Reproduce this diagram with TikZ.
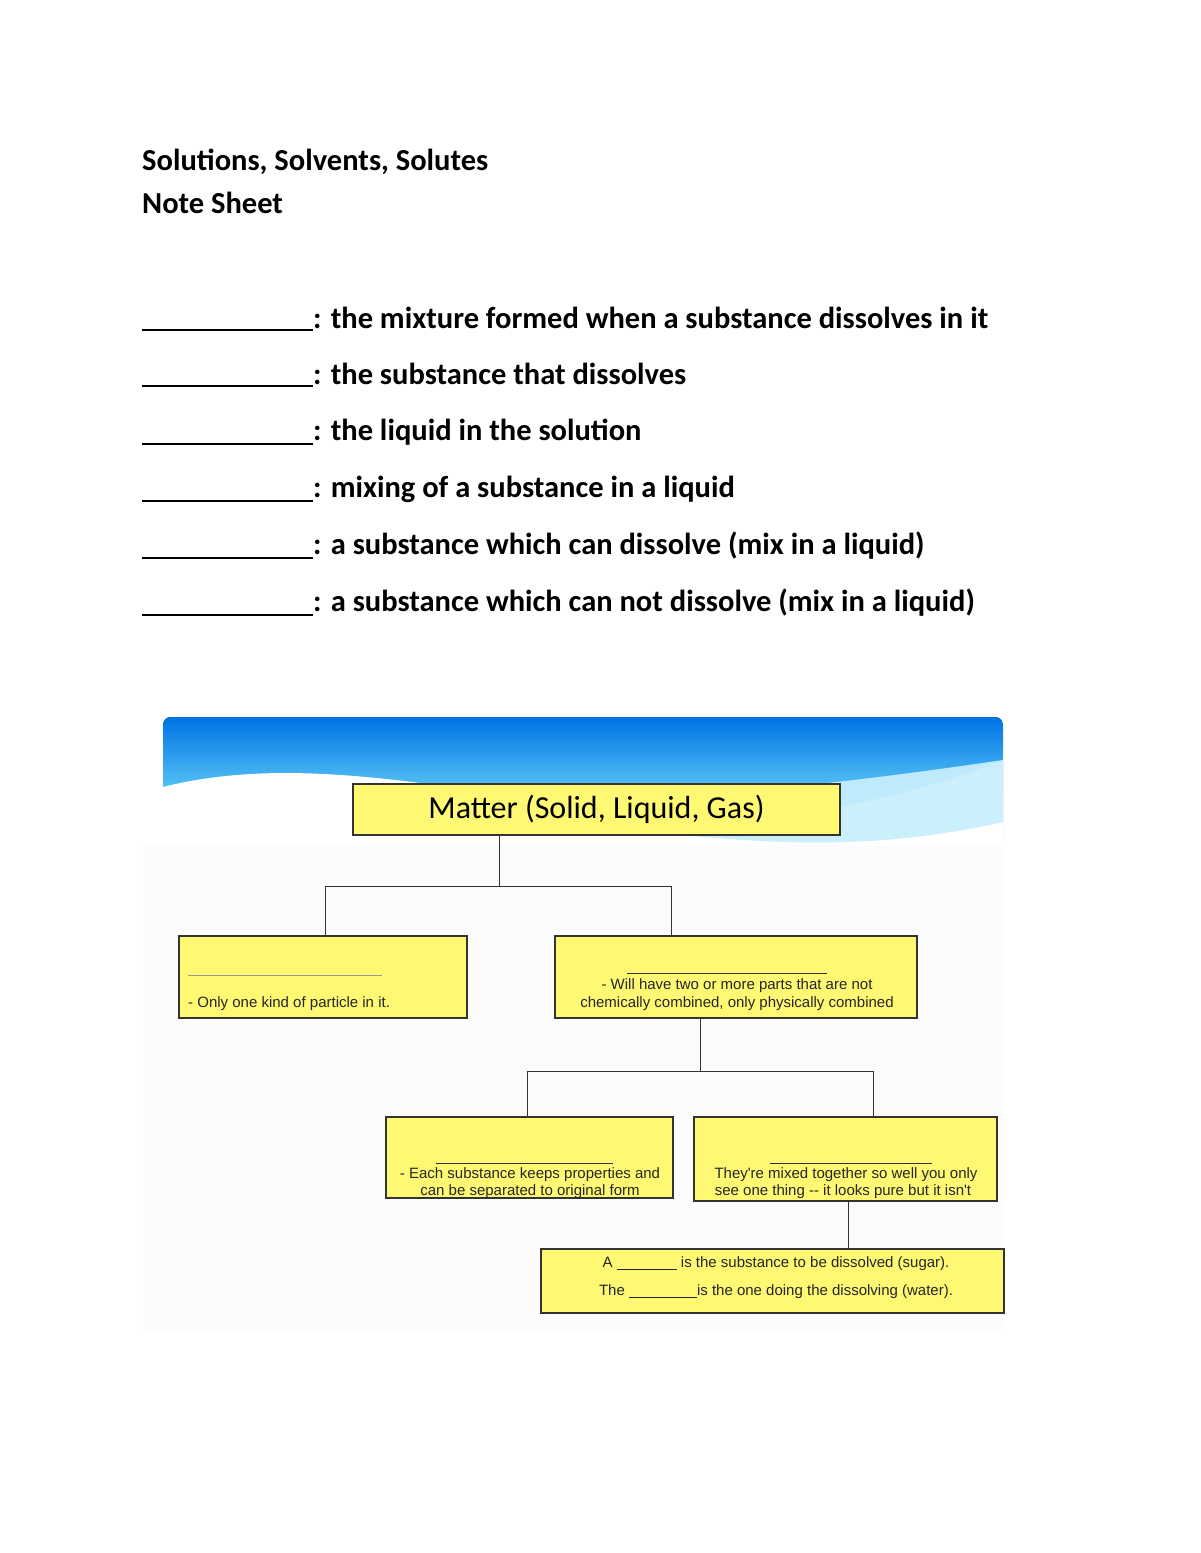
\documentclass[tikz,border=0pt]{standalone}
\usepackage{fontspec}
\setmainfont{Carlito}
\newfontfamily\arial{Liberation Sans}
\begin{document}
\begin{tikzpicture}[x=1pt,y=-1pt,
  ybox/.style={draw=black!80,line width=1.2pt,fill=yellow!55},
  conn/.style={draw=black!80,line width=1pt},
  deftxt/.style={anchor=west,inner sep=0pt,font=\bfseries\fontsize{30.5}{34}\selectfont},
  small/.style={font=\arial\fontsize{15}{17}\selectfont,inner sep=0pt,text=black!85}]
\useasboundingbox (0,0) rectangle (1200,1553);
% titles
\node[deftxt] (t1) at (142,162) {Solutions, Solvents, Solutes};
\node[deftxt] (t2) at (142,203) {Note Sheet};
\foreach \y/\t in {318/the mixture formed when a substance dissolves in it,
  374/the substance that dissolves, 432/the liquid in the solution,
  489/mixing of a substance in a liquid,
  546/a substance which can dissolve (mix in a liquid),
  603/a substance which can not dissolve (mix in a liquid)}{
  \draw[line width=1.3pt] (142,\y+12) -- (313,\y+12);
  \node[deftxt] at (313,\y) {: \t};
}
% header
\fill[black!1] (143,845) rectangle (1003,1330);
\begin{scope}
\clip[rounded corners=8pt] (163,717) rectangle (1003,900);
\fill[top color=blue!50!cyan!90!black, bottom color=cyan!40] (163,717) rectangle (1003,845);
\fill[cyan!25] (420,795) .. controls (600,810) and (800,790) .. (1003,760) -- (1003,820) .. controls (800,850) and (600,840) .. (420,795) -- cycle;
\fill[white] (163,787) .. controls (250,765) and (350,770) .. (500,795) .. controls (700,830) and (850,850) .. (1003,820) -- (1003,900) -- (163,900) -- cycle;
\fill[cyan!20] (1003,760) .. controls (900,800) and (800,820) .. (640,830) .. controls (800,850) and (900,845) .. (1003,822) -- cycle;
\fill[black!1] (163,845) rectangle (1003,900);
\end{scope}
% boxes
\node[ybox,minimum width=487,minimum height=51,inner sep=0pt,font=\fontsize{32}{36}\selectfont] (m) at (596.5,809.5) {Matter (Solid, Liquid, Gas)};
\node[ybox,minimum width=288,minimum height=82,inner sep=0pt] (b1) at (323,977) {};
\node[ybox,minimum width=362,minimum height=82,inner sep=0pt] (b2) at (736,977) {};
\node[ybox,minimum width=287,minimum height=81,inner sep=0pt] (b3) at (529.5,1157.5) {};
\node[ybox,minimum width=303,minimum height=84,inner sep=0pt] (b4) at (845.5,1159) {};
\node[ybox,minimum width=463,minimum height=64,inner sep=0pt] (b5) at (772.5,1281) {};
% connectors
\coordinate (j1) at (499,886); \coordinate (j2) at (700,1071);
\draw[conn] (m.south -| j1) -- (j1);
\draw[conn] (325,886) -- (671,886);
\draw[conn] (325,886) -- (b1.north -| 325,0);
\draw[conn] (671,886) -- (b2.north -| 671,0);
\draw[conn] (b2.south -| j2) -- (j2);
\draw[conn] (527,1071) -- (873,1071);
\draw[conn] (527,1071) -- (b3.north -| 527,0);
\draw[conn] (873,1071) -- (b4.north -| 873,0);
\draw[conn] (b4.south -| 848,0) -- (b5.north -| 848,0);
% box texts
\draw[black!40,line width=0.8pt] (188,975) -- (382,975);
\node[small,anchor=west] at (188,1004) {- Only one kind of particle in it.};
\draw[black!80,line width=1pt] (627,973) -- (827,973);
\node[small] at (737,986) {- Will have two or more parts that are not};
\node[small] at (737,1004) {chemically combined, only physically combined};
\draw[black!80,line width=1pt] (436,1163) -- (613,1163);
\node[small] at (530,1175) {- Each substance keeps properties and};
\node[small] at (530,1192) {can be separated to original form};
\draw[black!80,line width=1pt] (770,1163) -- (932,1163);
\node[small] at (846,1175) {They're mixed together so well you only};
\node[small] at (843,1192) {see one thing -- it looks pure but it isn't};
\node[small] at (776,1264) {A \rule[-2pt]{60pt}{1.2pt} is the substance to be dissolved (sugar).};
\node[small] at (776,1292) {The \rule[-2pt]{68pt}{1.2pt}is the one doing the dissolving (water).};
\end{tikzpicture}
\end{document}
